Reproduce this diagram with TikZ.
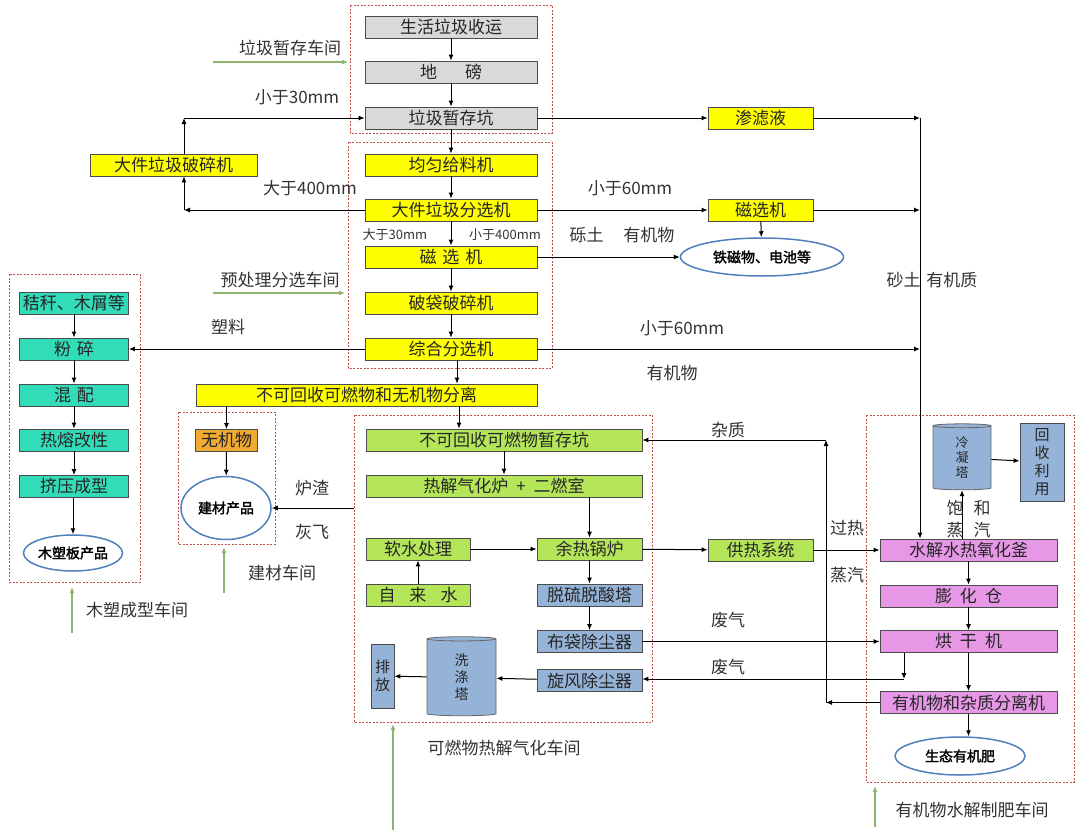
\documentclass[tikz,border=0pt]{standalone}
\usepackage{fontspec}
\setmainfont{Noto Sans CJK SC}[AutoFakeBold=2]
\usepackage{tikz}
\usetikzlibrary{arrows.meta,shapes.geometric}

\definecolor{boxgray}{RGB}{217,217,217}
\definecolor{boxyellow}{RGB}{255,255,0}
\definecolor{boxgreen}{RGB}{181,230,90}
\definecolor{boxteal}{RGB}{51,220,185}
\definecolor{boxblue}{RGB}{149,179,215}
\definecolor{boxpink}{RGB}{230,152,230}
\definecolor{boxorange}{RGB}{240,170,50}
\definecolor{hallred}{RGB}{192,80,77}
\definecolor{entrygreen}{RGB}{140,180,110}
\definecolor{ellblue}{RGB}{79,129,189}

\tikzset{
	box/.style={draw=black!70, line width=0.8pt, minimum height=22pt, inner sep=0pt, text=black!85, font=\fontsize{17}{20}\selectfont},
	graybox/.style={box, fill=boxgray, minimum width=172pt},
	yellowbox/.style={box, fill=boxyellow},
	greenbox/.style={box, fill=boxgreen},
	tealbox/.style={box, fill=boxteal, minimum width=109pt},
	bluebox/.style={box, fill=boxblue},
	pinkbox/.style={box, fill=boxpink, minimum width=177pt},
	tallbox/.style={bluebox, align=center, font=\fontsize{15}{18}\selectfont},
	tower/.style={cylinder, shape border rotate=90, aspect=0.3, draw=black!60, line width=0.8pt, fill=boxblue, inner sep=0pt, align=center, text=black!85, font=\fontsize{13}{15}\selectfont},
	prod/.style={ellipse, draw=ellblue, line width=1.5pt, fill=white, inner sep=0pt, font=\bfseries\fontsize{14}{16}\selectfont},
	lbl/.style={text=black!80, font=\fontsize{17}{20}\selectfont},
	flow/.style={-{Latex[length=6pt,width=5pt]}, line width=1pt},
	hall/.style={draw=hallred, dash pattern=on 2pt off 1.5pt, line width=0.8pt},
	entry/.style={-{Latex[length=6pt,width=5pt]}, draw=entrygreen, line width=1.8pt}
}

\begin{document}
\begin{tikzpicture}[x=1pt,y=-1pt]
	\useasboundingbox[fill=white] (0,0) rectangle (1080,830);

	\draw[hall] (350,5) rectangle (552,133);
	\draw[hall] (348,142) rectangle (552,368);
	\draw[hall] (9,274) rectangle (140,582);
	\draw[hall] (178,412) rectangle (275,544);
	\draw[hall] (354,415) rectangle (652,722);
	\draw[hall] (866,415) rectangle (1074,782);

	\node[graybox] (collect) at (451,27) {生活垃圾收运};
	\node[graybox] (scale) at (451,72) {地\hspace{28pt}磅};
	\node[graybox] (pit) at (451,118) {垃圾暂存坑};
	\node[yellowbox, minimum width=172pt] (feeder) at (451,165) {均匀给料机};
	\node[yellowbox, minimum width=172pt] (bigsort) at (451,210) {大件垃圾分选机};
	\node[yellowbox, minimum width=172pt] (mag1) at (451,257) {磁\hspace{6pt}选\hspace{6pt}机};
	\node[yellowbox, minimum width=172pt] (bagbreak) at (451,303) {破袋破碎机};
	\node[yellowbox, minimum width=172pt] (finesort) at (451,349) {综合分选机};
	\node[yellowbox, minimum width=167pt] (crusher) at (173.5,165) {大件垃圾破碎机};
	\node[yellowbox, minimum width=105pt] (leach) at (760.5,118) {渗滤液};
	\node[yellowbox, minimum width=105pt] (mag2) at (760.5,210) {磁选机};
	\node[prod, minimum width=163pt, minimum height=38pt] (iron) at (762,257) {铁磁物、电池等};
	\node[yellowbox, minimum width=341pt] (sepall) at (366.5,395) {不可回收可燃物和无机物分离};

	\node[tealbox] (straw) at (74,303) {秸秆、木屑等};
	\node[tealbox] (mill) at (74,349) {粉\hspace{6pt}碎};
	\node[tealbox] (blend) at (74,395) {混\hspace{6pt}配};
	\node[tealbox] (melt) at (74,440) {热熔改性};
	\node[tealbox] (extrude) at (74,486.5) {挤压成型};
	\node[prod, minimum width=97pt, minimum height=36pt] (wpc) at (73,553) {木塑板产品};

	\node[box, fill=boxorange, minimum width=62pt] (inorg) at (226.5,440.5) {无机物};
	\node[prod, minimum width=90pt, minimum height=63pt] (bprod) at (226,508) {建材产品};

	\node[greenbox, minimum width=276pt] (combpit) at (504,440) {不可回收可燃物暂存坑};
	\node[greenbox, minimum width=276pt] (pyro) at (504,486) {热解气化炉\hspace{8pt}+\hspace{8pt}二燃室};
	\node[greenbox, minimum width=104pt] (soft) at (418,549) {软水处理};
	\node[greenbox, minimum width=104pt] (tap) at (418,595) {自\hspace{14pt}来\hspace{14pt}水};
	\node[greenbox, minimum width=105pt] (boiler) at (589.5,549) {余热锅炉};
	\node[bluebox, minimum width=105pt] (desulf) at (589.5,595) {脱硫脱酸塔};
	\node[bluebox, minimum width=105pt] (bag) at (589.5,641.5) {布袋除尘器};
	\node[bluebox, minimum width=105pt] (cyclone) at (589.5,680.5) {旋风除尘器};
	\node[tower, minimum width=69pt, minimum height=79pt, font=\fontsize{14}{17}\selectfont] (wash) at (461.5,677.5) {洗\\涤\\塔};
	\node[tallbox, minimum width=23pt, minimum height=64pt] (vent) at (382.5,676) {排\\放};

	\node[greenbox, minimum width=105pt] (heat) at (760.5,550) {供热系统};
	\node[pinkbox] (hydro) at (968.5,550) {水解水热氧化釜};
	\node[pinkbox] (puff) at (968.5,596) {膨\hspace{8pt}化\hspace{8pt}仓};
	\node[pinkbox] (dryer) at (968.5,641.5) {烘\hspace{8pt}干\hspace{8pt}机};
	\node[pinkbox] (sepom) at (968.5,702.5) {有机物和杂质分离机};
	\node[tower, minimum width=58pt, minimum height=66pt] (cond) at (962,458) {冷\\凝\\塔};
	\node[tallbox, minimum width=44pt, minimum height=78pt] (recycle) at (1042,462) {回\\收\\利\\用};
	\node[prod, minimum width=130pt, minimum height=38pt] (fert) at (960,756) {生态有机肥};

	\coordinate (brk) at (184,210);
	\coordinate (brktop) at (184,118);
	\coordinate (rail) at (920,118);
	\coordinate (slag) at (354,508);
	\coordinate (dry) at (904,679);
	\coordinate (impbot) at (826,702.5);
	\coordinate (imptop) at (826,440);

	\draw[flow] (collect) -- (scale);
	\draw[flow] (scale) -- (pit);
	\draw[flow] (pit) -- (feeder);
	\draw[flow] (feeder) -- (bigsort);
	\draw[flow] (bigsort) -- (mag1);
	\draw[flow] (mag1) -- (bagbreak);
	\draw[flow] (bagbreak) -- (finesort);
	\draw[flow] (finesort.south -| 457,0) -- (sepall.north -| 457,0);
	\draw[flow] (bigsort) -- (brk);
	\draw[flow] (brk) -- (brk |- crusher.south);
	\draw[flow] (brk |- crusher.north) -- (brktop);
	\draw[flow] (brktop) -- (pit);
	\draw[flow] (pit) -- (leach);
	\draw[flow] (leach) -- (rail);
	\draw[flow] (rail) -- (rail |- hydro.north);
	\draw[flow] (bigsort) -- (mag2);
	\draw[flow] (mag2) -- (mag2 -| rail);
	\draw[flow] (mag2) -- (iron);
	\draw[flow] (mag1) -- (iron);
	\draw[flow] (finesort) -- (finesort -| rail);
	\draw[flow] (finesort) -- (mill);

	\draw[flow] (straw) -- (mill);
	\draw[flow] (mill) -- (blend);
	\draw[flow] (blend) -- (melt);
	\draw[flow] (melt) -- (extrude);
	\draw[flow] (extrude.south -| 73,0) -- (wpc);

	\draw[flow] (inorg |- sepall.south) -- (inorg);
	\draw[flow] (inorg) -- (bprod);
	\draw[flow] (slag) -- (bprod);
	\draw[flow] (sepall.south -| 459,0) -- (combpit.north -| 459,0);

	\draw[flow] (combpit) -- (pyro);
	\draw[flow] (pyro.south -| boiler) -- (boiler);
	\draw[flow] (tap) -- (soft);
	\draw[flow] (soft) -- (boiler);
	\draw[flow] (boiler) -- (desulf);
	\draw[flow] (desulf) -- (bag);
	\draw[flow] (cyclone) -- (wash);
	\draw[flow] (wash) -- (vent);
	\draw[flow] (boiler) -- (heat);
	\draw[flow] (heat) -- (hydro);

	\draw[flow] (hydro.north -| cond) -- (cond);
	\draw[flow] (cond) -- (recycle);
	\draw[flow] (hydro) -- (puff);
	\draw[flow] (puff) -- (dryer);
	\draw[flow] (dryer) -- (sepom);
	\draw[flow] (sepom.south) -- (sepom.south |- fert.north);
	\draw[flow] (bag) -- (bag -| dryer.west);
	\draw[flow] (dryer.south -| dry) -- (dry);
	\draw[flow] (dry) -- (dry -| cyclone.east);
	\draw[flow] (sepom) -- (impbot);
	\draw[flow] (impbot) -- (imptop);
	\draw[flow] (imptop) -- (combpit);

	\node[lbl] (l1) at (290,48) {垃圾暂存车间};
	\node[lbl] (l2) at (297,97) {小于30mm};
	\node[lbl] (l3) at (310,188) {大于400mm};
	\node[lbl, font=\fontsize{13}{15}\selectfont] (l4) at (395,235) {大于30mm};
	\node[lbl, font=\fontsize{13}{15}\selectfont] (l5) at (505,235) {小于400mm};
	\node[lbl] (l6) at (630,188) {小于60mm};
	\node[lbl] (l7) at (622,235) {砾土\hspace{20pt}有机物};
	\node[lbl] (l8) at (280,280) {预处理分选车间};
	\node[lbl] (l9) at (228,327) {塑料};
	\node[lbl] (l10) at (682,328) {小于60mm};
	\node[lbl] (l11) at (672,373) {有机物};
	\node[lbl] (l12) at (932,280) {砂土\hspace{6pt}有机质};
	\node[lbl] (l13) at (312,488) {炉渣};
	\node[lbl] (l14) at (312,532) {灰飞};
	\node[lbl] (l15) at (282,573) {建材车间};
	\node[lbl] (l16) at (137,610) {木塑成型车间};
	\node[lbl] (l17) at (728,430) {杂质};
	\node[lbl] (l18) at (847,528) {过热};
	\node[lbl] (l19) at (847,575) {蒸汽};
	\node[lbl] (l20) at (728,620) {废气};
	\node[lbl] (l21) at (728,667) {废气};
	\node[lbl] (l22) at (955,508) {饱};
	\node[lbl] (l23) at (982,508) {和};
	\node[lbl] (l24) at (955,530) {蒸};
	\node[lbl] (l25) at (982,530) {汽};
	\node[lbl] (l26) at (504,748) {可燃物热解气化车间};
	\node[lbl] (l27) at (972,810) {有机物水解制肥车间};

	\draw[entry] (213,62) -- (348,62);
	\draw[entry] (213,293) -- (345,293);
	\draw[entry] (224,593) -- (224,547);
	\draw[entry] (72,633) -- (72,587);
	\draw[entry] (393,830) -- (393,724);
	\draw[entry] (875,827) -- (875,786);
\end{tikzpicture}
\end{document}
